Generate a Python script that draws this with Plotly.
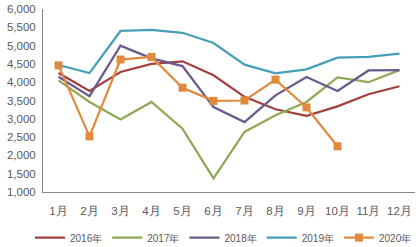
import plotly.graph_objects as go

months = ["1月", "2月", "3月", "4月", "5月", "6月", "7月", "8月", "9月", "10月", "11月", "12月"]
y2016 = [4250, 3760, 4280, 4500, 4570, 4190, 3600, 3260, 3080, 3340, 3670, 3890]
y2017 = [4050, 3460, 2980, 3460, 2730, 1370, 2640, 3100, 3460, 4130, 4000, 4330]
y2018 = [4150, 3620, 5000, 4650, 4440, 3320, 2910, 3640, 4140, 3760, 4320, 4330]
y2019 = [4470, 4250, 5400, 5430, 5350, 5070, 4480, 4240, 4350, 4670, 4690, 4780]
y2020 = [4460, 2520, 4620, 4690, 3850, 3490, 3500, 4070, 3310, 2250]

series = [
    ("2016年", y2016, "#A3403E", False),
    ("2017年", y2017, "#8FA956", False),
    ("2018年", y2018, "#6B5A8A", False),
    ("2019年", y2019, "#45A0B7", False),
    ("2020年", y2020, "#E08A3E", True),
]

fig = go.Figure()
for name, vals, color, mk in series:
    fig.add_trace(go.Scatter(
        x=months[:len(vals)], y=vals, name=name,
        mode="lines+markers" if mk else "lines",
        line=dict(color=color, width=2.25),
        marker=dict(symbol="square", size=8, color=color),
    ))

fig.update_layout(
    width=418, height=247,
    margin=dict(l=43, r=3, t=9, b=55, autoexpand=False),
    paper_bgcolor="white", plot_bgcolor="white",
    font=dict(family="Liberation Sans", size=11.5, color="#595959"),
    showlegend=True,
    legend=dict(orientation="h", x=-0.035, xanchor="left", y=-0.17, yanchor="top",
                font=dict(size=10, color="#595959"), itemwidth=30, tracegroupgap=0),
)
fig.update_xaxes(showline=True, linecolor="#868686", linewidth=1, showgrid=False,
                 ticks="", zeroline=False, range=[-0.5, 11.5], ticklabelstandoff=8)
fig.update_yaxes(showline=True, linecolor="#868686", linewidth=1, showgrid=False,
                 ticks="", zeroline=False, range=[1000, 6000], dtick=500,
                 tickformat=",d", ticklabelstandoff=4)

fig.write_html("out.html")
